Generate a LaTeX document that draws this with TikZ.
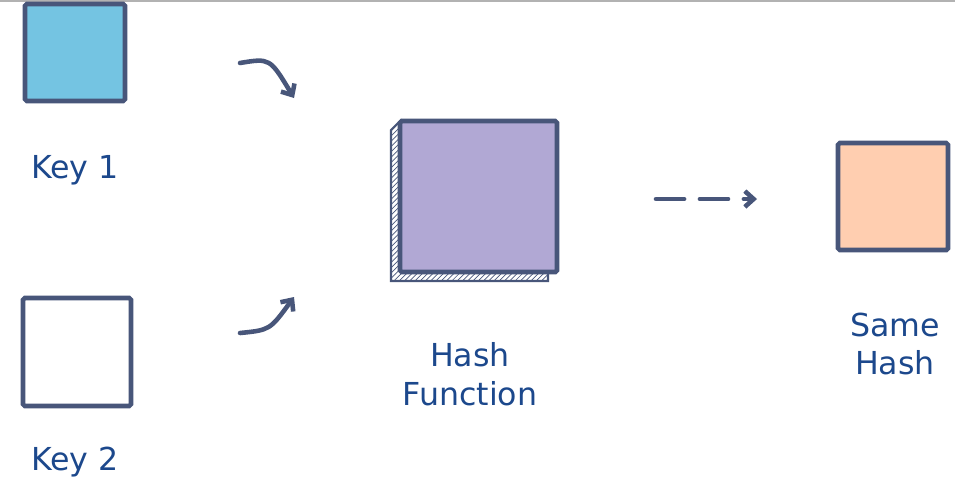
\documentclass[tikz,border=0pt]{standalone}
\usepackage{fontspec}
\setmainfont{DejaVu Sans}
\usetikzlibrary{arrows.meta, positioning, patterns}
\definecolor{edgeslate}{RGB}{72,86,122}
\definecolor{labelblue}{RGB}{28,72,140}
\definecolor{keyblue}{RGB}{116,196,226}
\definecolor{hashpurple}{RGB}{177,168,212}
\definecolor{samepeach}{RGB}{255,206,176}
\tikzset{
  box/.style={draw=edgeslate, line width=2.6pt, rounded corners=1pt},
  lbl/.style={text=labelblue, font=\fontsize{18}{22}\selectfont, align=center},
  flow/.style={-{Straight Barb[length=5pt,width=9pt]}, draw=edgeslate, line width=2.6pt, line cap=round},
}
\begin{document}
\begin{tikzpicture}[x=0.02cm, y=-0.02cm]
\useasboundingbox (0,0) rectangle (955,485);
\draw[gray!60, line width=1pt] (0,1) -- (955,1);

% ---- Keys on the left ----
\draw[box, fill=keyblue] (25,4) rectangle (125,101);
\node[lbl] (key1) at (75,170) {Key 1};
\draw[box, fill=white] (23,298) rectangle (131,406);
\node[lbl] (key2) at (75,462) {Key 2};

% ---- Hash function block ----
\draw[edgeslate, line width=1.2pt, pattern=north east lines, pattern color=edgeslate]
  (391,130) -- (400,121) -- (400,272) -- (548,272) -- (548,281) -- (391,281) -- cycle;
\draw[box, fill=hashpurple] (400,121) rectangle (557,272);
\node[lbl] (hash) at (470,374) {Hash\\Function};

% ---- Result ----
\draw[box, fill=samepeach] (838,143) rectangle (948,250);
\node[lbl] (same) at (895,344) {Same\\Hash};

% ---- Connectors ----
\coordinate (a1) at (240,63);
\coordinate (b1) at (294,98);
\coordinate (a2) at (240,333);
\coordinate (b2) at (294,297);
\draw[flow] (a1) .. controls (270,58) .. (b1);
\draw[flow] (a2) .. controls (270,330) .. (b2);
\coordinate (c1) at (656,199);
\coordinate (c2) at (757,199);
\draw[flow, dash pattern=on 16pt off 9pt] (c1) -- (c2);
\end{tikzpicture}
\end{document}
